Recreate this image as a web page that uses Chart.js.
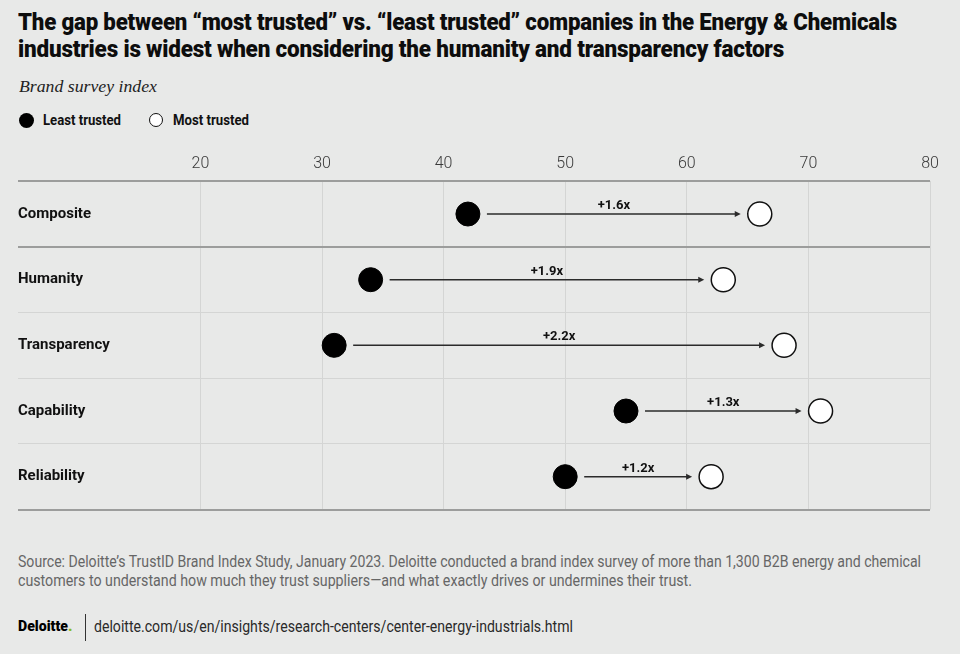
<!DOCTYPE html>
<html>
<head>
<meta charset="utf-8">
<title>Trust gap – Energy & Chemicals</title>
<script src="https://cdn.jsdelivr.net/npm/chart.js@4.4.1/dist/chart.umd.min.js"></script>
<style>
  html, body { margin: 0; padding: 0; }
  body {
    width: 960px; height: 654px; position: relative; overflow: hidden;
    background: #e8e9e8; color: #111;
    font-family: Roboto, 'Liberation Sans', sans-serif;
  }
  .t { position: absolute; white-space: nowrap; transform-origin: 0 0; }
  .title { left: 18px; font-size: 23px; line-height: 27px; font-weight: 900; color: #0d0d0d; letter-spacing: -0.2px; }
  .sub { left: 19px; top: 77px; font-family: 'Liberation Serif', 'DejaVu Serif', serif; font-style: italic; font-size: 17px; line-height: 20px; color: #222; }
  .leg { top: 111px; font-size: 15px; line-height: 18px; font-weight: 700; }
  .dot { position: absolute; border-radius: 50%; box-sizing: border-box; }
  .src { left: 18px; font-size: 16px; line-height: 20px; color: #666; }
  .logo { left: 18px; top: 617px; font-weight: 900; font-size: 15px; line-height: 18px; color: #000; }
  .url { left: 94px; top: 616px; font-size: 17px; line-height: 20px; color: #2a2a2a; }
  #chartWrap { position: absolute; left: 0; top: 140px; }
</style>
</head>
<body>

<div class="t title" style="top:9px" data-w="879">The gap between “most trusted” vs. “least trusted” companies in the Energy &amp; Chemicals</div>
<div class="t title" style="top:36px" data-w="766">industries is widest when considering the humanity and transparency factors</div>
<div class="t sub" data-w="138">Brand survey index</div>

<div class="dot" style="left:18.5px; top:112.5px; width:15px; height:15px; background:#000;"></div>
<div class="t leg" style="left:43px" data-w="78">Least trusted</div>
<div class="dot" style="left:149px; top:113px; width:14px; height:14px; background:#fff; border:1.5px solid #111;"></div>
<div class="t leg" style="left:173px" data-w="76">Most trusted</div>

<div id="chartWrap"><canvas id="gapChart" width="960" height="383"></canvas></div>

<div class="t src" style="top:552px" data-w="903">Source: Deloitte’s TrustID Brand Index Study, January 2023. Deloitte conducted a brand index survey of more than 1,300 B2B energy and chemical</div>
<div class="t src" style="top:571px" data-w="674">customers to understand how much they trust suppliers—and what exactly drives or undermines their trust.</div>

<div class="t logo" data-w="50">Deloitte</div>
<div class="t" style="left:68px; top:617px; font-weight:900; font-size:15px; line-height:18px; color:#86bc25;">.</div>
<div style="position:absolute; left:85px; top:614px; width:1px; height:27px; background:#333;"></div>
<div class="t url" data-w="479">deloitte.com/us/en/insights/research-centers/center-energy-industrials.html</div>

<script>
// values
const categories = ['Composite', 'Humanity', 'Transparency', 'Capability', 'Reliability'];
const leastTrusted = [42, 34, 31, 55, 50];
const mostTrusted = [66, 63, 68, 71, 62];
const gapLabels = ['+1.6x', '+1.9x', '+2.2x', '+1.3x', '+1.2x'];
const xTicks = [20, 30, 40, 50, 60, 70, 80];

const sans = "Roboto, 'Liberation Sans', sans-serif";

// squeeze html text lines to the widths of the original
function fitText() {
    document.querySelectorAll('[data-w]').forEach(function(el) {
        el.style.transform = 'none';
        var w = el.getBoundingClientRect().width;
        if (w > 0) el.style.transform = 'scaleX(' + (parseFloat(el.dataset.w) / w) + ')';
    });
}
fitText();

// arrows + multiplier labels between the two dots of each row
const gapArrows = {
    id: 'gapArrows',
    beforeDatasetsDraw(chart) {
        const ctx = chart.ctx;
        const x = chart.scales.x;
        const y = chart.scales.y;
        const r = 12;
        ctx.save();
        categories.forEach(function(cat, i) {
            const yy = y.getPixelForValue(i);
            const x1 = x.getPixelForValue(leastTrusted[i]) + r + 7;
            const x2 = x.getPixelForValue(mostTrusted[i]) - r - 7;
            ctx.strokeStyle = '#2b2b2b';
            ctx.fillStyle = '#2b2b2b';
            ctx.lineWidth = 1.5;
            ctx.beginPath();
            ctx.moveTo(x1, yy);
            ctx.lineTo(x2 - 4, yy);
            ctx.stroke();
            ctx.beginPath();
            ctx.moveTo(x2, yy);
            ctx.lineTo(x2 - 6, yy - 3);
            ctx.lineTo(x2 - 6, yy + 3);
            ctx.closePath();
            ctx.fill();
            ctx.fillStyle = '#111';
            ctx.font = 'bold 13px ' + sans;
            ctx.textAlign = 'center';
            ctx.textBaseline = 'alphabetic';
            ctx.fillText(gapLabels[i], (x1 + x2) / 2, yy - 5);
        });
        ctx.restore();
    }
};

function strongLine(c) {
    return c.index === undefined || c.index <= 1;
}

Chart.defaults.font.family = sans;

var ctx = document.getElementById('gapChart').getContext('2d');
var gapChart = new Chart(ctx, {
    type: 'line',
    data: {
        labels: categories,
        datasets: [{
            label: 'Least trusted',
            data: leastTrusted,
            showLine: false,
            pointRadius: 12,
            pointHoverRadius: 12,
            pointBackgroundColor: '#000',
            pointBorderColor: '#000',
            pointBorderWidth: 1
        }, {
            label: 'Most trusted',
            data: mostTrusted,
            showLine: false,
            pointRadius: 12,
            pointHoverRadius: 12,
            pointBackgroundColor: '#fff',
            pointBorderColor: '#111',
            pointBorderWidth: 1.5
        }]
    },
    options: {
        indexAxis: 'y',
        responsive: false,
        animation: false,
        events: [],
        layout: { padding: { left: 18, right: 30, top: 6, bottom: 12 } },
        plugins: {
            legend: { display: false },
            tooltip: { enabled: false }
        },
        scales: {
            x: {
                type: 'linear',
                position: 'top',
                min: 5,
                max: 80,
                afterBuildTicks: function(scale) {
                    scale.ticks = xTicks.map(function(v) { return { value: v }; });
                },
                grid: { color: '#d4d5d4', lineWidth: 1, drawTicks: false },
                border: { display: false },
                ticks: { color: '#3a3a3a', padding: 8, font: { size: 16, weight: '300' } }
            },
            y: {
                type: 'category',
                offset: true,
                grid: {
                    offset: true,
                    drawTicks: false,
                    color: function(c) { return strongLine(c) ? '#9c9d9c' : '#d4d5d4'; },
                    lineWidth: function(c) { return strongLine(c) ? 2 : 1; }
                },
                border: { display: false },
                ticks: { mirror: true, padding: 0, color: '#111', font: { size: 15, weight: 'bold' } }
            }
        }
    },
    plugins: [gapArrows]
});
</script>
</body>
</html>
